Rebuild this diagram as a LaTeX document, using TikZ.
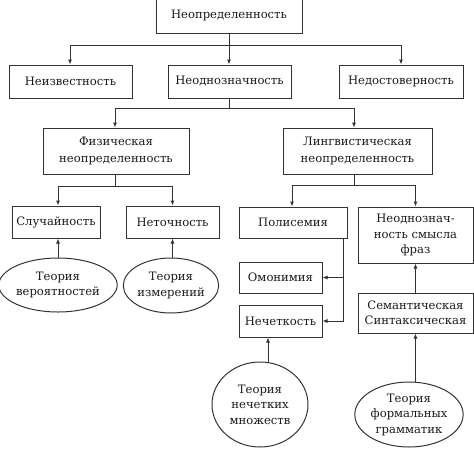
\documentclass[tikz,border=0pt]{standalone}
\usepackage{fontspec}
\setmainfont{DejaVu Serif}
\usetikzlibrary{arrows.meta,shapes.geometric}
\definecolor{ln}{HTML}{333333}
\definecolor{tx}{HTML}{1A1A1A}
\begin{document}
\begin{tikzpicture}[x=1pt,y=-1pt,
  every node/.style={text=tx,font=\fontsize{11.6}{15.5}\selectfont,align=center,inner sep=0pt},
  box/.style={draw=ln,line width=1pt,rectangle},
  ell/.style={draw=ln,line width=1pt,ellipse},
  conn/.style={draw=ln,line width=1pt},
  arr/.style={conn,-{Latex[length=5pt,width=4.2pt]}}]
\useasboundingbox (0,0) rectangle (474,448);
% row 0
\node[box,minimum width=146pt,minimum height=35pt] (top) at (229,15.5) {Неопределенность};
% row 1
\node[box,minimum width=123pt,minimum height=33pt] (neiz) at (70.5,81.5) {Неизвестность};
\node[box,minimum width=123pt,minimum height=33pt] (neodn) at (229.5,81.5) {Неоднозначность};
\node[box,minimum width=124pt,minimum height=33pt] (nedost) at (401,81.5) {Недостоверность};
% row 2
\node[box,minimum width=146pt,minimum height=46pt,font=\fontsize{11.6}{17}\selectfont] (phys) at (116,151) {Физическая\\неопределенность};
\node[box,minimum width=149pt,minimum height=46pt,font=\fontsize{11.6}{17}\selectfont] (ling) at (357.5,151) {Лингвистическая\\неопределенность};
% row 3
\node[box,minimum width=88pt,minimum height=32pt] (sluch) at (56,222) {Случайность};
\node[box,minimum width=93pt,minimum height=32pt] (netoch) at (172.5,222) {Неточность};
\node[box,minimum width=108pt,minimum height=31pt] (polis) at (293,222.5) {Полисемия};
\node[box,minimum width=115pt,minimum height=56pt] (smysl) at (415.5,235) {Неоднознач-\\ность смысла\\фраз};
% lower boxes
\node[box,minimum width=83pt,minimum height=31pt] (omon) at (280.5,277.5) {Омонимия};
\node[box,minimum width=83pt,minimum height=32pt] (nechet) at (280.5,321) {Нечеткость};
\node[box,minimum width=115pt,minimum height=40pt] (sem) at (415.5,313) {Семантическая\\Синтаксическая};
% ellipses
\node[ell,minimum width=116pt,minimum height=54pt] (e1) at (58,285) {Теория\\вероятностей};
\node[ell,minimum width=94pt,minimum height=55pt] (e2) at (171,285.5) {Теория\\измерений};
\node[ell,minimum width=96pt,minimum height=85pt] (e3) at (260,404.5) {Теория\\нечетких\\множеств};
\node[ell,minimum width=96pt,minimum height=65pt] (e4) at (409,414.5) {Теория\\формальных\\грамматик};
% connectors
\coordinate (j1) at (top.south |- 0,45);
\draw[conn] (top.south) -- (j1);
\draw[arr] (j1) -| ([xshift=-0.5pt]neiz.north);
\draw[arr] (j1) -- (j1 |- neodn.north);
\draw[arr] (j1) -| (nedost.north);
\coordinate (j2) at (j1 |- 0,108);
\draw[conn] (j1 |- neodn.south) -- (j2);
\draw[arr] (j2) -| ([xshift=-1pt]phys.north);
\draw[arr] (j2) -| ([xshift=-3.5pt]ling.north);
\coordinate (j3) at ([xshift=-1pt]phys.south |- 0,186);
\draw[conn] ([xshift=-1pt]phys.south) -- (j3);
\draw[arr] (j3) -| ([xshift=2pt]sluch.north);
\draw[arr] (j3) -| (netoch.north);
\coordinate (j4) at ([xshift=-3.5pt]ling.south |- 0,185);
\draw[conn] ([xshift=-3.5pt]ling.south) -- (j4);
\draw[arr] (j4) -| ([xshift=-1pt]polis.north);
\draw[arr] (j4) -| (smysl.north);
\coordinate (pv) at ([xshift=-4pt]polis.south east);
\draw[arr] (pv) |- (omon.east);
\draw[arr] (pv) |- (nechet.east);
\draw[arr] (sem.north) -- (smysl.south);
\coordinate (s1) at ([xshift=2pt]sluch.south);
\draw[arr] (s1 |- e1.north) -- (s1);
\draw[arr] (netoch.south |- e2.north) -- (netoch.south);
\coordinate (n3) at ([xshift=-12.5pt]nechet.south);
\draw[arr] (n3 |- e3.north) -- (n3);
\draw[arr] (sem.south |- e4.north) -- (sem.south);
\end{tikzpicture}
\end{document}
